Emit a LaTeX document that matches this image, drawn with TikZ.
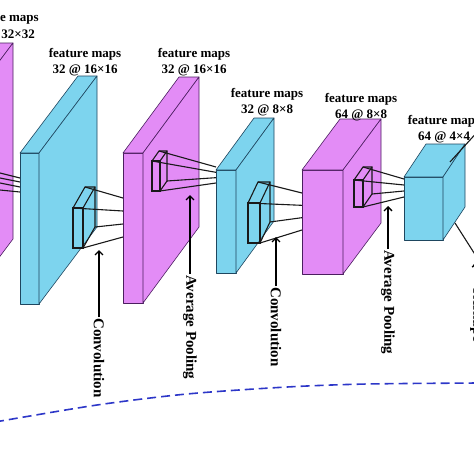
\documentclass[tikz,border=0pt]{standalone}
\usepackage{fontspec}
\setmainfont{Liberation Serif}
\usetikzlibrary{arrows.meta}
\definecolor{magc}{RGB}{227,140,246}
\definecolor{cyac}{RGB}{125,212,238}
\definecolor{magl}{RGB}{75,30,95}
\definecolor{cyal}{RGB}{30,70,95}
\definecolor{dashb}{RGB}{45,55,200}
\newcommand{\blk}[7]{% style x y w h dx dy
  \draw[#1] (#2,#3) rectangle ++(#4,#5);
  \draw[#1] (#2,#3) -- ++(#4,0) -- ++(#6,#7) -- ++(-#4,0) -- cycle;
  \draw[#1] (#2+#4,#3) -- ++(#6,#7) -- ++(0,#5) -- (#2+#4,#3+#5) -- cycle;
}
\newcommand{\kbox}[9]{% x y w h dx dy tx ty1 ty4
  \coordinate (FTL) at (#1,#2);
  \coordinate (FTR) at (#1+#3,#2);
  \coordinate (FBL) at (#1,#2+#4);
  \coordinate (FBR) at (#1+#3,#2+#4);
  \coordinate (BTL) at (#1+#5,#2+#6);
  \coordinate (BTR) at (#1+#3+#5,#2+#6);
  \coordinate (BBR) at (#1+#3+#5,#2+#4+#6);
  \draw[kline] (FTL) -- (FTR) -- (FBR) -- (FBL) -- cycle;
  \draw[kline] (FTL) -- (BTL) -- (BTR) -- (BBR) -- (FBR);
  \draw[kline] (FTR) -- (BTR);
  \draw[kline] (BTL) -- (#7,#8);
  \draw[kline] (FTL) -- (#7,{#8+(#9-#8)/3});
  \draw[kline] (BBR) -- (#7,{#8+2*(#9-#8)/3});
  \draw[kline] (FBR) -- (#7,#9);
}
\begin{document}
\begin{tikzpicture}[x=1pt,y=-1pt,
  magblk/.style={fill=magc,draw=magl,line width=0.6pt,line join=round},
  cyablk/.style={fill=cyac,draw=cyal,line width=0.6pt,line join=round},
  kline/.style={draw=black!90,line width=1.1pt},
  flab/.style={font=\bfseries\fontsize{13}{15}\selectfont,anchor=base,inner sep=0pt},
  vlab/.style={font=\bfseries\fontsize{15}{15}\selectfont,rotate=-90,anchor=west,inner sep=1pt},
  arr/.style={line width=1.4pt,-{Straight Barb[length=4pt,width=8pt]}}]
\useasboundingbox (0,0) rectangle (474,474);
\clip (0,0) rectangle (474,474);
% block 1 (magenta)
\blk{magblk}{-65}{120}{20}{196}{58}{-77}
\draw[kline] (-20,168) -- (20,178);
\draw[kline] (-20,174) -- (20,182);
\draw[kline] (-20,179) -- (20,187);
\draw[kline] (-20,188) -- (20,192);
% block 2 (cyan)
\blk{cyablk}{20}{153}{19}{151}{58}{-77}
\kbox{73}{208}{10}{40}{12}{-21}{123}{198}{237}
% block 3 (magenta)
\blk{magblk}{123}{153}{20}{150}{56}{-76}
\kbox{152}{161}{8}{30}{7}{-10}{216}{167}{183}
% block 4 (cyan)
\blk{cyablk}{216}{170}{20}{103}{38}{-52}
\kbox{248}{203}{12}{40}{10}{-21}{302}{193}{230}
% block 5 (magenta)
\blk{magblk}{302}{170}{41}{104}{38}{-51}
\kbox{354}{180}{9}{27}{9}{-13}{404}{179}{197}
% block 6 (cyan)
\blk{cyablk}{404}{177}{39}{63}{22}{-33}
\draw[kline] (450,162) -- (490,118);
\draw[kline] (455,223) -- (490,278);
% labels
\node[flab] (l1a) at (2.5,21.5) {feature maps};
\node[flab,anchor=base east] (l1b) at (35,38) {32×32};
\node[flab] (l2a) at (85,57) {feature maps};
\node[flab] (l2b) at (85,73) {32 @ 16×16};
\node[flab] (l3a) at (194,57) {feature maps};
\node[flab] (l3b) at (194,73) {32 @ 16×16};
\node[flab] (l4a) at (267,97) {feature maps};
\node[flab] (l4b) at (267,113) {32 @ 8×8};
\node[flab] (l5a) at (361,102) {feature maps};
\node[flab] (l5b) at (361,118) {64 @ 8×8};
\node[flab] (l6a) at (444,124.5) {feature maps};
\node[flab] (l6b) at (444,140) {64 @ 4×4};
% operation labels and arrows
\node[vlab] (c1) at (99,317) {Convolution};
\coordinate (t1) at (99,250);
\draw[arr] (c1.west) -- (t1);
\node[vlab] (p1) at (190,274) {Average Pooling};
\coordinate (t2) at (190,195);
\draw[arr] (p1.west) -- (t2);
\node[vlab] (c2) at (276,286) {Convolution};
\coordinate (t3) at (276,237);
\draw[arr] (c2.west) -- (t3);
\node[vlab] (p2) at (388,249) {Average Pooling};
\coordinate (t4) at (388,206);
\draw[arr] (p2.west) -- (t4);
\node[vlab] (r1) at (477,287) {Reshape};
\coordinate (t5) at (476,262);
\draw[arr] (r1.west) -- (t5);
% dashed curve
\draw[dashb,line width=1.6pt,dash pattern=on 9pt off 5pt]
  plot[smooth] coordinates {(-5,422) (97,405) (187,394) (287,387) (367,384) (480,383)};
\end{tikzpicture}
\end{document}
